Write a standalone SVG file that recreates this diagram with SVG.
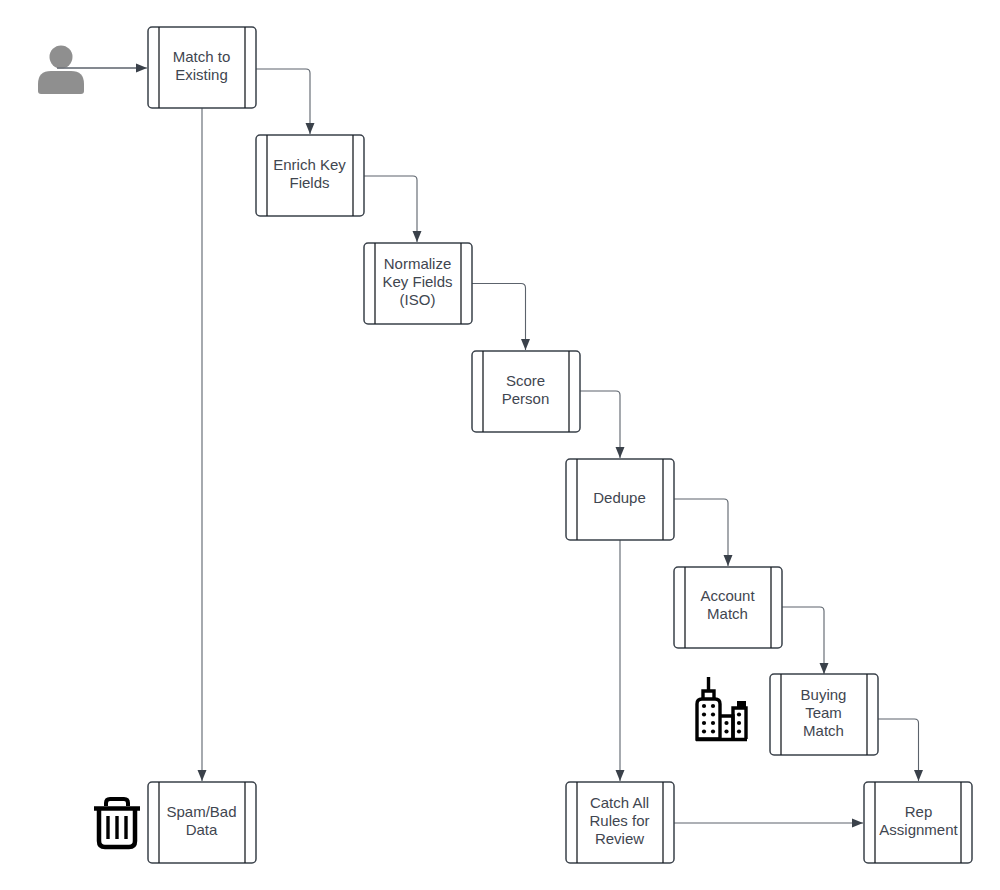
<svg xmlns="http://www.w3.org/2000/svg" width="1000" height="890" viewBox="0 0 1000 890">
<defs>
<marker id="arrow" markerUnits="userSpaceOnUse" markerWidth="13" markerHeight="12" refX="11" refY="6" orient="auto"><path d="M0 1.500 L11 6 L0 10.500 Z" fill="#3a414a"/></marker>
<g id="box"><rect x="0" y="0" width="108" height="81" rx="4" class="b"/><path d="M11 0V81M97 0V81" class="d"/></g>
</defs>
<style>
.b{fill:#fff;stroke:#3a414a;stroke-width:1.5}
.d{fill:none;stroke:#1c2026;stroke-width:1.3}
.c{fill:none;stroke:#5c636c;stroke-width:1.1;marker-end:url(#arrow)}
text{font-family:"Liberation Sans",Arial,sans-serif;font-size:15px;fill:#3f4650;text-anchor:middle}
.i{fill:none;stroke:#000;stroke-width:3.4}
</style>
<rect width="1000" height="890" fill="#fff"/>
<g id="connectors">
<path class="c" d="M57 68H147"/>
<path class="c" d="M256 69H306Q310 69 310 73V134"/>
<path class="c" d="M202 108V781"/>
<path class="c" d="M364 176H413Q417 176 417 180V242"/>
<path class="c" d="M472 283.500H521Q525.500 283.500 525.500 288V350"/>
<path class="c" d="M580 391H616Q620 391 620 395V458"/>
<path class="c" d="M674 499H724Q728 499 728 503V566"/>
<path class="c" d="M620 540V781"/>
<path class="c" d="M782 607H820Q824 607 824 611V674"/>
<path class="c" d="M878 719H914.500Q918.500 719 918.500 723V781"/>
<path class="c" d="M674 823H863"/>
</g>
<g id="person"><circle cx="61" cy="57" r="11.500" fill="#8f8f8f"/><path d="M38 91V84Q38 71 51 71H71Q84 71 84 84V91Q84 94 81 94H41Q38 94 38 91Z" fill="#8f8f8f"/><path d="M57 68H136" fill="none" stroke="#5c636c" stroke-width="1.100"/></g>
<g id="n1"><use href="#box" x="148" y="27"/><text x="201.500" y="61.500">Match to</text><text x="201.500" y="79.500">Existing</text></g>
<g id="n2"><use href="#box" x="256" y="135"/><text x="309.500" y="169.500">Enrich Key</text><text x="309.500" y="187.500">Fields</text></g>
<g id="n3"><use href="#box" x="364" y="243"/><text x="417.500" y="268.500">Normalize</text><text x="417.500" y="286.500">Key Fields</text><text x="417.500" y="304.500">(ISO)</text></g>
<g id="n4"><use href="#box" x="472" y="351"/><text x="525.500" y="385.500">Score</text><text x="525.500" y="403.500">Person</text></g>
<g id="n5"><use href="#box" x="566" y="459"/><text x="619.500" y="502.500">Dedupe</text></g>
<g id="n6"><use href="#box" x="674" y="567"/><text x="727.500" y="600.500">Account</text><text x="727.500" y="618.500">Match</text></g>
<g id="n7"><use href="#box" x="770" y="674"/><text x="823.500" y="699.500">Buying</text><text x="823.500" y="717.500">Team</text><text x="823.500" y="735.500">Match</text></g>
<g id="n8"><use href="#box" x="148" y="782"/><text x="201.500" y="816.500">Spam/Bad</text><text x="201.500" y="834.500">Data</text></g>
<g id="n9"><use href="#box" x="566" y="782"/><text x="619.500" y="807.500">Catch All</text><text x="619.500" y="825.500">Rules for</text><text x="619.500" y="843.500">Review</text></g>
<g id="n10"><use href="#box" x="864" y="782"/><text x="918.500" y="816.500">Rep</text><text x="918.500" y="834.500">Assignment</text></g>
<g id="building">
<path d="M708.500 677V690" class="i"/>
<path d="M703 698V691H714V698" class="i"/>
<path d="M697 739V704Q697 699 702 699H715Q720 699 720 704V739Z" class="i"/>
<path d="M696 739.500H747" class="i"/>
<path d="M720 716H733V739" class="i"/>
<path d="M733 739V708H746V739" class="i"/>
<rect x="737" y="701" width="9" height="7" fill="#000"/>
<g fill="#000"><circle cx="704" cy="706" r="2.100"/><circle cx="713" cy="706" r="2.100"/><circle cx="704" cy="714.500" r="2.100"/><circle cx="713" cy="714.500" r="2.100"/><circle cx="704" cy="723" r="2.100"/><circle cx="713" cy="723" r="2.100"/><circle cx="704" cy="731.500" r="2.100"/><circle cx="713" cy="731.500" r="2.100"/><circle cx="726.500" cy="723" r="2.100"/><circle cx="726.500" cy="731.500" r="2.100"/><circle cx="739" cy="714.500" r="2.100"/><circle cx="739" cy="723" r="2.100"/><circle cx="739" cy="731.500" r="2.100"/></g>
</g>
<g id="trash">
<path d="M94 808.500H140" fill="none" stroke="#000" stroke-width="4.500"/>
<path d="M106 806V803Q106 799 110 799H124Q128 799 128 803V806" fill="none" stroke="#000" stroke-width="4"/>
<path d="M99 809V841Q99 847 105 847H129Q135 847 135 841V809" fill="none" stroke="#000" stroke-width="4.500"/>
<path d="M108 816V839M117 816V839M126 816V839" fill="none" stroke="#000" stroke-width="3.400"/>
</g>
</svg>
